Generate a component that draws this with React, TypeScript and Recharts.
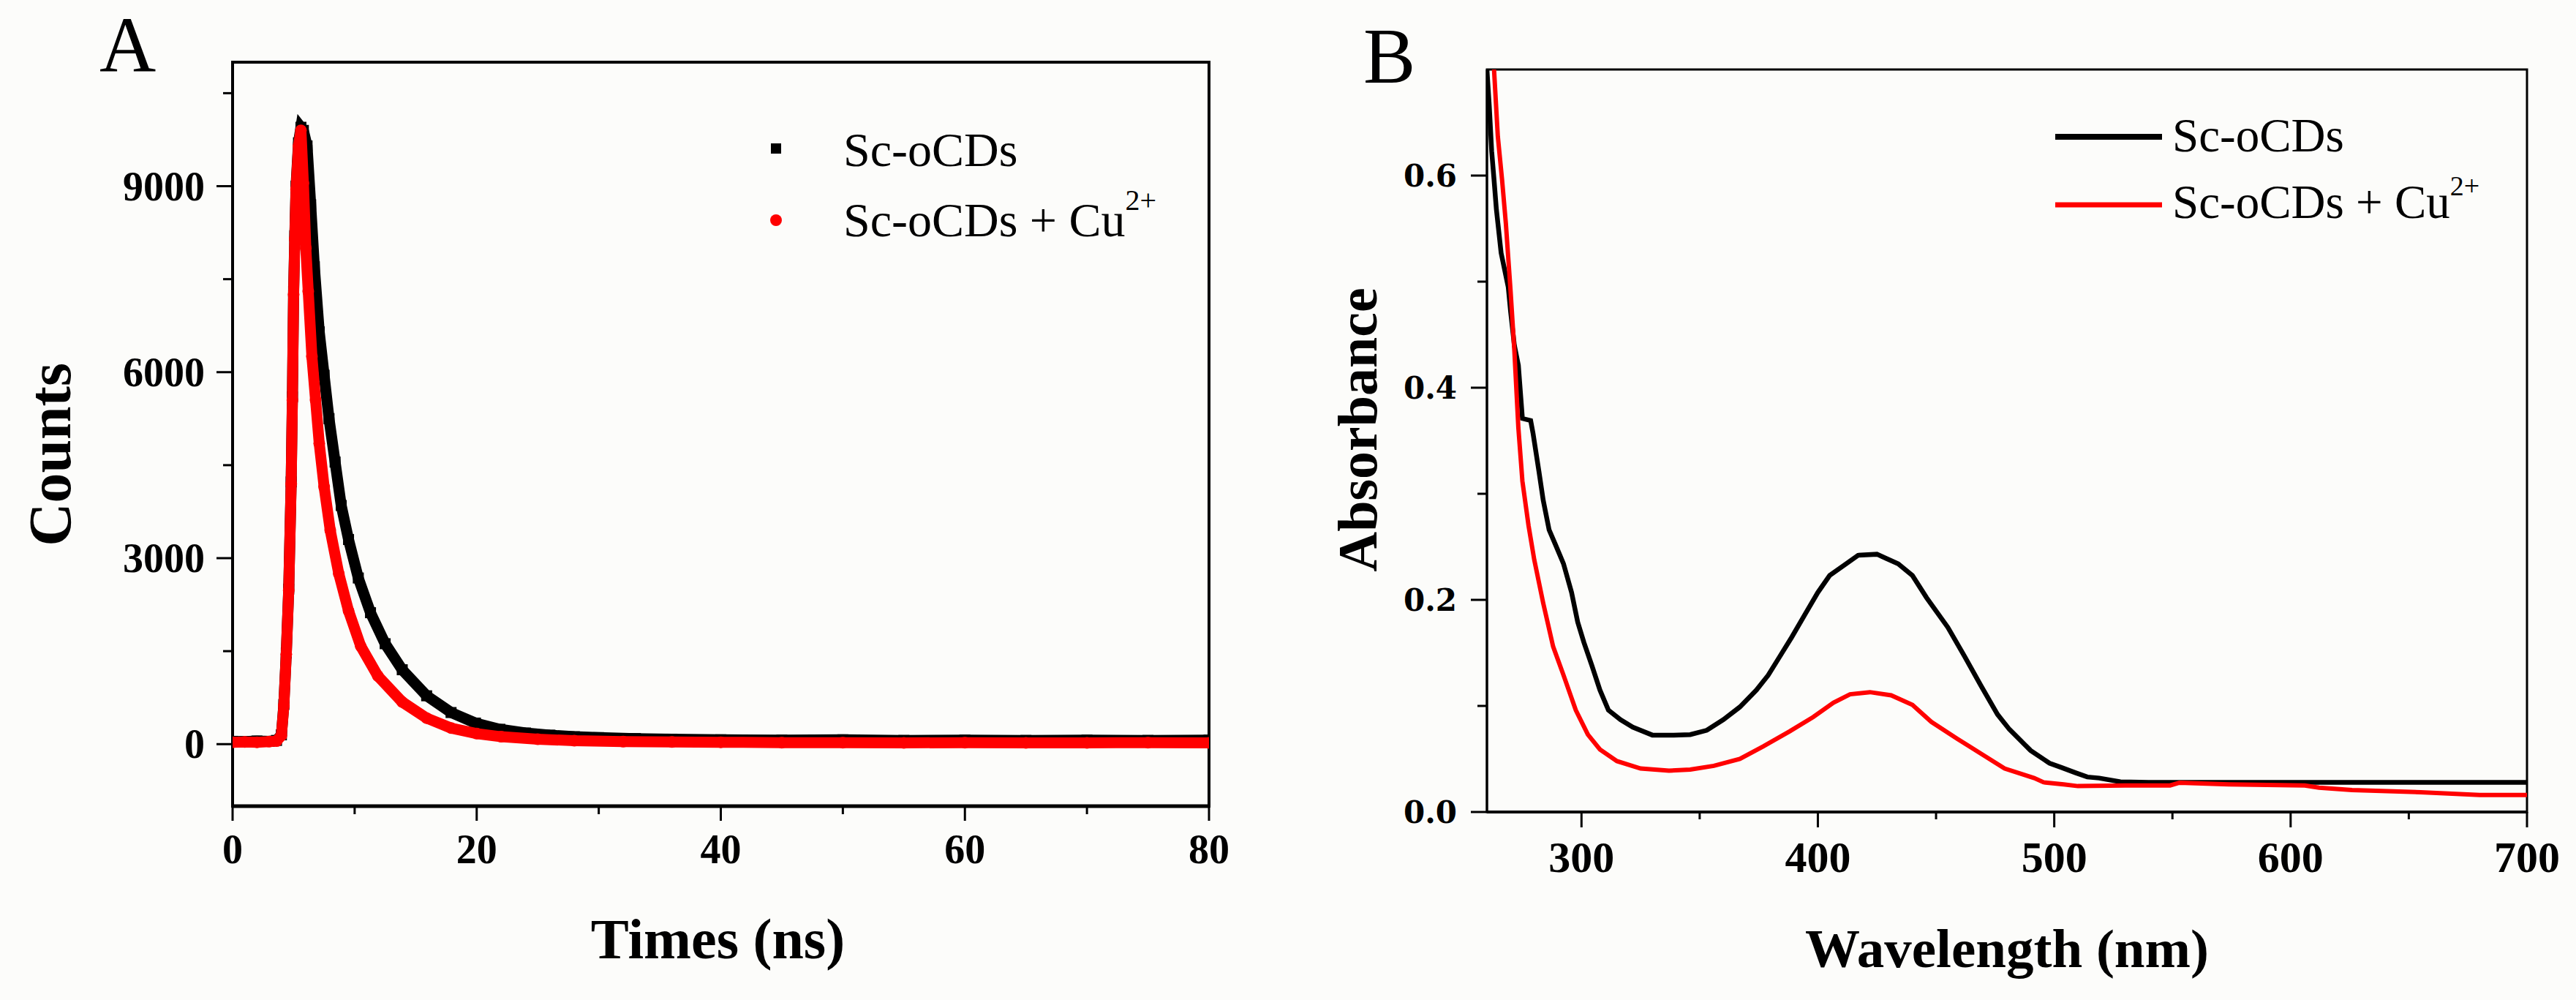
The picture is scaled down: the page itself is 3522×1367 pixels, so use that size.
import React from 'react';
import {
  ScatterChart,
  Scatter,
  LineChart,
  Line,
  XAxis,
  YAxis,
  ReferenceArea,
  Legend,
} from 'recharts';

// Fluorescence decay (TCSPC) — time in ns, photon counts
const timeBare = [0, 1, 2, 3, 3.6, 4.0, 4.2, 4.4, 4.6, 4.8, 4.9, 5.0, 5.1, 5.2, 5.4, 5.6, 5.8, 6.1, 6.4, 6.7, 7.1, 7.5, 7.9, 8.4, 8.9, 9.5, 10.3, 11.3, 12.5, 13.9, 15.9, 17.9, 19.9, 21.9, 24, 26, 28, 30, 33, 36, 40, 45, 50, 55, 60, 65, 70, 75, 80];
const countsBare = [45, 40, 50, 45, 60, 150, 640, 1470, 2500, 4230, 5600, 7300, 8200, 9000, 9700, 9950, 9900, 9650, 8700, 7700, 6650, 5950, 5250, 4550, 3850, 3300, 2680, 2120, 1620, 1200, 780, 510, 340, 240, 180, 145, 120, 105, 90, 80, 70, 65, 70, 60, 65, 60, 65, 60, 65];
const timeCu = [0, 1, 2, 3, 3.6, 4.0, 4.2, 4.4, 4.6, 4.8, 4.9, 5.0, 5.1, 5.2, 5.4, 5.6, 5.8, 6.0, 6.2, 6.5, 6.8, 7.1, 7.5, 8.0, 8.7, 9.5, 10.5, 11.9, 13.9, 15.9, 17.9, 20, 22, 25, 28, 32, 36, 40, 45, 50, 55, 60, 65, 70, 75, 80];
const countsCu = [30, 35, 30, 40, 50, 140, 620, 1450, 2480, 4200, 5550, 7250, 8150, 8950, 9650, 9900, 9050, 8000, 7300, 6250, 5550, 4850, 4150, 3450, 2750, 2150, 1580, 1100, 680, 420, 260, 170, 120, 80, 55, 40, 35, 30, 25, 25, 20, 25, 20, 20, 25, 20];

// UV-vis absorption spectra — wavelength in nm, absorbance
const waveBare = [260, 261, 262, 263, 264, 266, 269, 270, 271.6, 273.3, 275, 278.5, 279.5, 282, 283.8, 286.3, 289, 292.4, 295.8, 298.4, 301, 304.4, 307.8, 311.4, 316.5, 321.7, 330, 339, 346, 353, 360, 367, 374, 379, 384, 389, 395, 400, 405, 412, 417, 425, 429, 434, 440, 446, 455, 462, 469, 476, 481, 490, 498, 503, 509, 514, 519, 528, 540, 560, 600, 650, 700];
const absBare = [0.70, 0.665, 0.623, 0.596, 0.568, 0.527, 0.495, 0.472, 0.44, 0.421, 0.371, 0.369, 0.357, 0.321, 0.294, 0.266, 0.252, 0.234, 0.207, 0.179, 0.160, 0.138, 0.115, 0.096, 0.087, 0.080, 0.0725, 0.0725, 0.073, 0.077, 0.087, 0.099, 0.115, 0.129, 0.147, 0.165, 0.188, 0.207, 0.223, 0.234, 0.242, 0.243, 0.239, 0.234, 0.223, 0.202, 0.174, 0.147, 0.119, 0.092, 0.078, 0.058, 0.046, 0.042, 0.037, 0.033, 0.032, 0.0285, 0.028, 0.028, 0.028, 0.028, 0.028];
const waveCu = [262, 263, 264.6, 266.4, 268, 270, 271.6, 273.3, 275, 277.6, 280, 283.8, 288, 292.4, 297.6, 302.7, 307.8, 315, 325, 337, 346, 356, 367, 377, 388, 398, 406.6, 413.6, 422, 431, 440, 448, 459, 469, 479, 491.5, 495.5, 504, 510, 530, 549, 553, 574, 606, 612, 626, 655, 680, 700];
const absCu = [0.72, 0.70, 0.637, 0.596, 0.555, 0.491, 0.435, 0.362, 0.312, 0.270, 0.238, 0.197, 0.156, 0.129, 0.096, 0.073, 0.059, 0.048, 0.041, 0.039, 0.040, 0.0435, 0.050, 0.062, 0.076, 0.0895, 0.103, 0.111, 0.113, 0.110, 0.101, 0.085, 0.069, 0.055, 0.041, 0.032, 0.028, 0.026, 0.0244, 0.025, 0.025, 0.0276, 0.026, 0.025, 0.023, 0.0207, 0.0187, 0.016, 0.016];

const timeTicks = [0, 20, 40, 60, 80];
const timeMinor = [10, 30, 50, 70];
const countTicks = [0, 3000, 6000, 9000];
const countMinor = [1500, 4500, 7500, 10500];
const waveTicks = [300, 400, 500, 600, 700];
const waveMinor = [350, 450, 550, 650];
const absTicks = [0, 0.2, 0.4, 0.6];
const absMinor = [0.1, 0.3, 0.5];

const seriesNames = ['Sc-oCDs', 'Sc-oCDs + Cu'];
const ionCharge = '2+';
const seriesColors = ['#000000', '#ff0000'];

const decayBare = timeBare.map((t, i) => ({ t, c: countsBare[i] }));
const decayCu = timeCu.map((t, i) => ({ t, c: countsCu[i] }));
const specBare = waveBare.map((w, i) => ({ w, a: absBare[i] }));
const specCu = waveCu.map((w, i) => ({ w, a: absCu[i] }));

const SERIF = '"Liberation Serif", "Times New Roman", serif';
const WIDE_SERIF = '"DejaVu Serif", serif';

const merged = (a: number[], b: number[]) => [...a, ...b].sort((x, y) => x - y);
const isMajor = (v: number, majors: number[]) => majors.some(m => Math.abs(m - v) < 1e-9);

type TickOpts = {
  majors: number[];
  majorLen: number;
  minorLen: number;
  gap: number;
  dy?: number;
  font: { fontFamily: string; fontSize: number; fontWeight: string | number };
  fmt: (v: number) => string;
};

// left axis: tick goes outward (to the left), label right-aligned
function leftTick(o: TickOpts) {
  return (p: any) => {
    const v = p.payload.value;
    const major = isMajor(v, o.majors);
    return (
      <g>
        <line x1={p.x - (major ? o.majorLen : o.minorLen)} x2={p.x} y1={p.y} y2={p.y} stroke="#000" strokeWidth={3} />
        {major && (
          <text x={p.x - o.gap} y={p.y} dy={o.dy} textAnchor="end" fill="#000" {...o.font}>
            {o.fmt(v)}
          </text>
        )}
      </g>
    );
  };
}

// bottom axis: tick goes outward (down), label centred under it
function bottomTick(o: TickOpts) {
  return (p: any) => {
    const v = p.payload.value;
    const major = isMajor(v, o.majors);
    return (
      <g>
        <line x1={p.x} x2={p.x} y1={p.y} y2={p.y + (major ? o.majorLen : o.minorLen)} stroke="#000" strokeWidth={3} />
        {major && (
          <text x={p.x} y={p.y + o.gap} textAnchor="middle" fill="#000" {...o.font}>
            {o.fmt(v)}
          </text>
        )}
      </g>
    );
  };
}

const boldTimes = { fontFamily: SERIF, fontSize: 56, fontWeight: 'bold' };

const SquareDot = (p: any) => <rect x={p.cx - 7.5} y={p.cy - 7.5} width={15} height={15} fill={seriesColors[0]} />;
const RoundDot = (p: any) => <circle cx={p.cx} cy={p.cy} r={8} fill={seriesColors[1]} />;

function DecayLegend() {
  return (
    <svg width={580} height={200} style={{ display: 'block' }}>
      <rect x={14} y={36} width={14} height={14} fill={seriesColors[0]} />
      <text x={113} y={67} fontFamily={SERIF} fontSize={66} fill="#000">{seriesNames[0]}</text>
      <circle cx={21} cy={141} r={8} fill={seriesColors[1]} />
      <text x={113} y={163} fontFamily={SERIF} fontSize={66} fill="#000">
        {seriesNames[1]}
        <tspan dy={-36} fontSize={40}>{ionCharge}</tspan>
      </text>
    </svg>
  );
}

function SpectraLegend() {
  return (
    <svg width={660} height={180} style={{ display: 'block' }}>
      <line x1={20} x2={166} y1={37} y2={37} stroke={seriesColors[0]} strokeWidth={8} />
      <text x={180} y={57} fontFamily={SERIF} fontSize={65} fill="#000">{seriesNames[0]}</text>
      <line x1={20} x2={166} y1={130} y2={130} stroke={seriesColors[1]} strokeWidth={7} />
      <text x={180} y={148} fontFamily={SERIF} fontSize={65} fill="#000">
        {seriesNames[1]}
        <tspan dy={-31} fontSize={38}>{ionCharge}</tspan>
      </text>
    </svg>
  );
}

function DecayChart() {
  return (
    <ScatterChart width={1760} height={1367} margin={{ top: 85, right: 107, bottom: 25, left: 118 }}>
      <XAxis
        type="number"
        dataKey="t"
        domain={[0, 80]}
        allowDataOverflow
        ticks={merged(timeTicks, timeMinor)}
        interval={0}
        height={240}
        tickSize={0}
        tickMargin={0}
        tickLine={false}
        axisLine={{ stroke: '#000', strokeWidth: 5 }}
        tick={bottomTick({ majors: timeTicks, majorLen: 20, minorLen: 11, gap: 78, font: boldTimes, fmt: v => `${v}` })}
        label={{
          content: (p: any) => (
            <text x={p.viewBox.x + p.viewBox.width / 2 - 4} y={p.viewBox.y + 208} textAnchor="middle"
              fontFamily={SERIF} fontSize={78} fontWeight="bold" fill="#000">Times (ns)</text>
          ),
        }}
      />
      <YAxis
        type="number"
        dataKey="c"
        domain={[-1000, 11000]}
        allowDataOverflow
        ticks={merged(countTicks, countMinor)}
        interval={0}
        width={200}
        tickSize={0}
        tickMargin={0}
        tickLine={false}
        axisLine={{ stroke: '#000', strokeWidth: 4 }}
        tick={leftTick({ majors: countTicks, majorLen: 22, minorLen: 13, gap: 38, dy: 19, font: boldTimes, fmt: v => `${v}` })}
        label={{
          content: (p: any) => {
            const x = p.viewBox.x - 22;
            const y = p.viewBox.y + p.viewBox.height / 2 + 28;
            return (
              <text x={x} y={y} transform={`rotate(-90 ${x} ${y})`} textAnchor="middle"
                fontFamily={SERIF} fontSize={82} fontWeight="bold" fill="#000">Counts</text>
            );
          },
        }}
      />
      <Scatter name={seriesNames[0]} data={decayBare} fill={seriesColors[0]}
        line={{ stroke: seriesColors[0], strokeWidth: 15 }} shape={SquareDot} isAnimationActive={false} />
      <Scatter name={seriesNames[1]} data={decayCu} fill={seriesColors[1]}
        line={{ stroke: seriesColors[1], strokeWidth: 15 }} shape={RoundDot} isAnimationActive={false} />
      <ReferenceArea x1={0} x2={80} y1={-1000} y2={11000} fill="none" stroke="#000" strokeWidth={4} ifOverflow="visible" />
      <Legend layout="vertical" align="center" verticalAlign="middle"
        wrapperStyle={{ left: 1040, top: 160, width: 580, height: 200 }}
        content={() => <DecayLegend />} />
    </ScatterChart>
  );
}

function SpectraChart() {
  return (
    <LineChart width={1762} height={1367} margin={{ top: 95, right: 67, bottom: 17, left: 73 }}>
      <XAxis
        type="number"
        dataKey="w"
        domain={[260, 700]}
        allowDataOverflow
        ticks={merged(waveTicks, waveMinor)}
        interval={0}
        height={240}
        tickSize={0}
        tickMargin={0}
        tickLine={false}
        axisLine={{ stroke: '#000', strokeWidth: 4 }}
        tick={bottomTick({
          majors: waveTicks, majorLen: 21, minorLen: 10, gap: 82,
          font: { fontFamily: SERIF, fontSize: 60, fontWeight: 'bold' }, fmt: v => `${v}`,
        })}
        label={{
          content: (p: any) => (
            <text x={p.viewBox.x + p.viewBox.width / 2} y={p.viewBox.y + 212} textAnchor="middle"
              fontFamily={SERIF} fontSize={75} fontWeight="bold" fill="#000">Wavelength (nm)</text>
          ),
        }}
      />
      <YAxis
        type="number"
        dataKey="a"
        domain={[0, 0.7]}
        allowDataOverflow
        ticks={merged(absTicks, absMinor)}
        interval={0}
        width={200}
        tickSize={0}
        tickMargin={0}
        tickLine={false}
        axisLine={{ stroke: '#000', strokeWidth: 3 }}
        tick={leftTick({
          majors: absTicks, majorLen: 22, minorLen: 13, gap: 41, dy: 15,
          font: { fontFamily: WIDE_SERIF, fontSize: 42, fontWeight: 'bold' }, fmt: v => v.toFixed(1),
        })}
        label={{
          content: (p: any) => {
            const x = p.viewBox.x + 49;
            const y = p.viewBox.y + p.viewBox.height / 2 - 15;
            return (
              <text x={x} y={y} transform={`rotate(-90 ${x} ${y})`} textAnchor="middle"
                fontFamily={SERIF} fontSize={76} fontWeight="bold" fill="#000">Absorbance</text>
            );
          },
        }}
      />
      <Line name={seriesNames[0]} data={specBare} dataKey="a" type="linear" stroke={seriesColors[0]}
        strokeWidth={6.5} dot={false} activeDot={false} isAnimationActive={false} />
      <Line name={seriesNames[1]} data={specCu} dataKey="a" type="linear" stroke={seriesColors[1]}
        strokeWidth={6} dot={false} activeDot={false} isAnimationActive={false} />
      <ReferenceArea x1={260} x2={700} y1={0} y2={0.7} fill="none" stroke="#000" strokeWidth={3} ifOverflow="visible" />
      <Legend layout="vertical" align="center" verticalAlign="middle"
        wrapperStyle={{ left: 1030, top: 150, width: 660, height: 180 }}
        content={() => <SpectraLegend />} />
    </LineChart>
  );
}

export default function App() {
  return (
    <div style={{ position: 'absolute', left: 0, top: 0, width: 3522, height: 1367, background: '#fcfcfa', overflow: 'hidden' }}>
      <div style={{ position: 'absolute', left: 0, top: 0 }}>
        <DecayChart />
      </div>
      <div style={{ position: 'absolute', left: 1760, top: 0 }}>
        <SpectraChart />
      </div>
      <svg width={3522} height={1367} style={{ position: 'absolute', left: 0, top: 0, pointerEvents: 'none' }}>
        <text x={136} y={98} fontFamily={SERIF} fontSize={107} fill="#000">A</text>
        <text x={1864} y={113} fontFamily={SERIF} fontSize={107} fill="#000">B</text>
      </svg>
    </div>
  );
}
